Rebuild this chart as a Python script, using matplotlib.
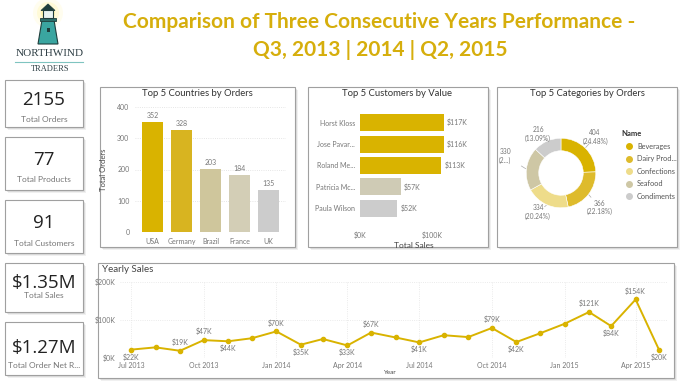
import numpy as np
import pandas as pd
import matplotlib
matplotlib.use('Agg')
import matplotlib.pyplot as plt
import matplotlib.dates as mdates
from matplotlib.patches import Rectangle, Polygon, Circle
from matplotlib.lines import Line2D
from matplotlib.ticker import FuncFormatter

plt.rcParams['font.family'] = ['Lato', 'DejaVu Sans']

W, H = 680, 381

# ---- data ----
kpi_values = ['2155', '77', '91', '$1.35M', '$1.27M']
kpi_labels = ['Total Orders', 'Total Products', 'Total Customers', 'Total Sales', 'Total Order Net R...']

countries = ['USA', 'Germany', 'Brazil', 'France', 'UK']
country_orders = [352, 328, 203, 184, 135]

customers = ['Horst Kloss', 'Jose Pavar...', 'Roland Me...', 'Patricia Mc...', 'Paula Wilson']
customer_sales = [117, 116, 113, 57, 52]  # $K

categories = ['Beverages', 'Dairy Prod...', 'Confections', 'Seafood', 'Condiments']
category_orders = [404, 366, 334, 330, 216]
category_labels = ['404\n(24.48%)', '366\n(22.18%)', '334\n(20.24%)', '330\n(2...)', '216\n(13.09%)']

months = pd.date_range('2013-07-01', '2015-05-01', freq='MS')
monthly_sales = [22, 28, 19, 47, 44, 52, 70, 35, 50, 33, 67, 54,
                 41, 60, 55, 79, 42, 65, 90, 121, 84, 154, 20]  # $K
# which points carry a data label, and on which side
label_side = {0: 'below', 2: 'above', 3: 'above', 4: 'below', 6: 'above', 7: 'below',
              9: 'below', 10: 'above', 12: 'below', 15: 'above', 16: 'below',
              19: 'above', 20: 'below', 21: 'above', 22: 'below'}

GOLD = '#D9B300'
TITLE_GOLD = '#D6AE0C'
GRAY_TXT = '#777777'
country_colors = ['#D9B300', '#D8B420', '#CFC69C', '#D3CEB6', '#CCCCCC']
customer_colors = ['#D9B300', '#D9B300', '#D9B300', '#CFCBB5', '#CCCCCC']
category_colors = ['#D9B300', '#DEBB2C', '#EEDC8A', '#CEC7A5', '#CCCCCC']


def px(x0, y0, x1, y1):
    return [x0 / W, 1 - y1 / H, (x1 - x0) / W, (y1 - y0) / H]


fig = plt.figure(figsize=(W / 100, H / 100), dpi=100)
bg = fig.add_axes([0, 0, 1, 1])
bg.set_xlim(0, W)
bg.set_ylim(H, 0)
bg.axis('off')


def panel(x0, y0, x1, y1):
    for d, a in [(3, 0.12), (2, 0.18), (1, 0.25)]:
        bg.add_patch(Rectangle((x0 + d, y0 + d), x1 - x0, y1 - y0, fc='#888888', ec='none', alpha=a))
    bg.add_patch(Rectangle((x0, y0), x1 - x0, y1 - y0, fc='white', ec='#a0a0a0', lw=0.8))


# ---- logo ----
for r, a in [(15, 0.10), (11, 0.18), (7, 0.35)]:
    bg.add_patch(Circle((48, 13), r, fc='#FFF06A', ec='none', alpha=a))
bg.add_patch(Polygon([(38, 44), (42, 20), (54, 20), (58, 44)], closed=True, fc='#3AA5A0', ec='#1F3E3C', lw=0.8))
bg.add_patch(Rectangle((40, 18), 16, 2.5, fc='#2C6E6A', ec='#1F3E3C', lw=0.6))
bg.add_patch(Rectangle((43, 10), 10, 8, fc='#E9F5F2', ec='#1F3E3C', lw=0.8))
bg.add_patch(Polygon([(41, 10.5), (48, 4), (55, 10.5)], closed=True, fc='#1F3E3C', ec='#1F3E3C', lw=0.6))
bg.add_patch(Rectangle((46.5, 28), 3, 4, fc='#1F3E3C', ec='none'))
bg.text(50, 54, 'NORTHWIND', family='Liberation Serif', fontsize=8, color='#2F3F45', ha='center', va='center')
bg.plot([15, 83], [61.5, 61.5], color='#7FC4C0', lw=0.8)
bg.text(50, 69, 'TRADERS', family='Liberation Serif', fontsize=6, color='#2F3F45', ha='center', va='center')

# ---- title ----
bg.text(379, 22, 'Comparison of Three Consecutive Years Performance -', color=TITLE_GOLD,
        fontsize=15, fontweight='bold', ha='center', va='center')
bg.text(380, 50, 'Q3, 2013 | 2014 | Q2, 2015', color=TITLE_GOLD,
        fontsize=15, fontweight='bold', ha='center', va='center')

# ---- KPI cards ----
card_boxes = [(5, 80, 83, 127), (5, 137, 83, 190), (5, 200, 83, 253), (5, 263, 83, 312), (5, 322, 83, 375)]
num_y = [100, 160, 223, 283, 348]
lab_y = [119, 180, 243, 296, 365]
for (x0, y0, x1, y1), v, lab, ny, ly in zip(card_boxes, kpi_values, kpi_labels, num_y, lab_y):
    panel(x0, y0, x1, y1)
    bg.text((x0 + x1) / 2, ny, v, fontsize=13.5, color='#222222', ha='center', va='center',
            family=['Open Sans', 'DejaVu Sans'])
    bg.text((x0 + x1) / 2, ly, lab, fontsize=6, color=GRAY_TXT, ha='center', va='center')

# ---- panels ----
panel(100, 87, 295, 247)
panel(308, 87, 488, 247)
panel(497, 87, 677, 247)
panel(98, 263, 674, 378)

title_kw = dict(fontsize=6.8, color='#333333', ha='center', va='center')
bg.text(197, 94, 'Top 5 Countries by Orders', **title_kw)
bg.text(397, 94, 'Top 5 Customers by Value', **title_kw)
bg.text(587, 94, 'Top 5 Categories by Orders', **title_kw)
bg.text(102, 270, 'Yearly Sales', fontsize=7, color='#444444', ha='left', va='center')

# ---- countries bar chart ----
ax1 = fig.add_axes(px(135, 107, 286, 232))
x = np.arange(len(countries))
ax1.bar(x, country_orders, width=0.75, color=country_colors, zorder=2)
for xi, v in zip(x, country_orders):
    ax1.text(xi, v + 8, str(v), ha='center', va='bottom', fontsize=5, color=GRAY_TXT)
ax1.set_xlim(-0.6, 4.6)
ax1.set_ylim(0, 400)
ax1.set_yticks([0, 100, 200, 300, 400])
ax1.set_xticks(x)
ax1.set_xticklabels(countries)
ax1.grid(axis='y', color='#dddddd', ls=':', lw=0.6)
for s in ax1.spines.values():
    s.set_visible(False)
ax1.tick_params(length=0, labelsize=5, colors=GRAY_TXT, pad=4)
ax1.set_ylabel('Total Orders', fontsize=5.5, color='#444444', labelpad=7)
ax1.patch.set_alpha(0)

# ---- customers bar chart ----
ax2 = fig.add_axes(px(360, 112, 468, 219))
y = np.arange(len(customers))
ax2.barh(y, customer_sales, height=0.8, color=customer_colors)
for yi, v in zip(y, customer_sales):
    ax2.text(v + 4, yi, f'${v}K', va='center', ha='left', fontsize=5, color=GRAY_TXT)
ax2.set_ylim(4.5, -0.5)
ax2.set_xlim(0, 150)
ax2.set_yticks(y)
ax2.set_yticklabels(customers)
ax2.set_xticks([0, 100])
ax2.xaxis.set_major_formatter(FuncFormatter(lambda v, p: f'${v:.0f}K'))
for s in ax2.spines.values():
    s.set_visible(False)
ax2.tick_params(length=0, labelsize=5, colors=GRAY_TXT)
ax2.tick_params(axis='x', pad=9)
ax2.set_xlabel('Total Sales', fontsize=6, color='#444444', labelpad=2)
ax2.patch.set_alpha(0)

# ---- categories donut ----
ax3 = fig.add_axes(px(521, 133, 601, 213))
wedges, _ = ax3.pie(category_orders, colors=category_colors, startangle=90, counterclock=False,
                    radius=1, wedgeprops=dict(width=0.36, edgecolor='white', linewidth=0.4))
ax3.set_xlim(-1.15, 1.15)
ax3.set_ylim(-1.15, 1.15)
ax3.set_aspect('equal')
label_xy = [(0.98, 1.03), (1.12, -1.0), (-0.66, -1.12), (-1.6, 0.49), (-0.66, 1.12)]
for w, lab, (tx, ty) in zip(wedges, category_labels, label_xy):
    ang = np.deg2rad((w.theta1 + w.theta2) / 2)
    ax3.annotate(lab, xy=(1.02 * np.cos(ang), 1.02 * np.sin(ang)), xytext=(tx, ty),
                 ha='center', va='center', fontsize=4.8, color=GRAY_TXT, annotation_clip=False,
                 arrowprops=dict(arrowstyle='-', color='#aaaaaa', lw=0.5, shrinkA=6, shrinkB=0))
handles = [Line2D([], [], marker='o', ls='', color=c, markersize=4) for c in category_colors]
leg = ax3.legend(handles, categories, title='Name', loc='upper left', bbox_to_anchor=(1.22, 1.07),
                 frameon=False, fontsize=5.3, title_fontproperties={'size': 5.5, 'weight': 'bold'},
                 handletextpad=0.1, labelspacing=0.75, alignment='left', borderaxespad=0)
for t in leg.get_texts():
    t.set_color('#555555')
leg.get_title().set_color('#333333')

# ---- yearly sales line ----
ax4 = fig.add_axes(px(120, 282, 668, 358))
ax4.plot(months, monthly_sales, color=GOLD, lw=1.4, marker='o', markersize=3, zorder=3)
for i, side in label_side.items():
    off = 3.5 if side == 'above' else -2.5
    ax4.annotate(f'${monthly_sales[i]}K', (months[i], monthly_sales[i]), xytext=(0, off),
                 textcoords='offset points', ha='center', va='bottom' if side == 'above' else 'top',
                 fontsize=5, color=GRAY_TXT, annotation_clip=False)
x0 = mdates.date2num(months[0])
x1 = mdates.date2num(months[-1])
ax4.set_xlim(x0 - 14, x1 + 11)
ax4.set_ylim(0, 200)
ax4.set_yticks([0, 100, 200])
ax4.yaxis.set_major_formatter(FuncFormatter(lambda v, p: f'${v:.0f}K'))
ax4.set_xticks(months[::3])
ax4.set_xticklabels([m.strftime('%b %Y') for m in months[::3]])
ax4.grid(color='#e4e4e4', ls=':', lw=0.6)
for s in ax4.spines.values():
    s.set_visible(False)
ax4.tick_params(length=0, labelsize=5, colors=GRAY_TXT, pad=3)
ax4.patch.set_alpha(0)
bg.text(389, 373, 'Year', fontsize=4.5, color='#444444', ha='center', va='center')

fig.savefig('out.png', dpi=100)
